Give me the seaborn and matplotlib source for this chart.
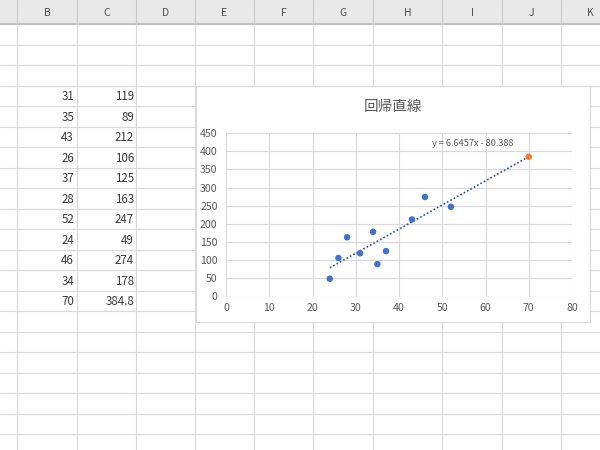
import pandas as pd
import matplotlib.pyplot as plt
import seaborn as sns
from matplotlib.patches import Rectangle

# ---------------------------------------------------------
# DATA (sheet columns B and C)
# ---------------------------------------------------------

x_vals = [31, 35, 43, 26, 37, 28, 52, 24, 46, 34, 70]
y_vals = [119, 89, 212, 106, 125, 163, 247, 49, 274, 178, 384.8]
y_text = ["119", "89", "212", "106", "125", "163", "247", "49", "274", "178", "384.8"]
groups = ["data"] * 10 + ["predict"]

col_letters = ["B", "C", "D", "E", "F", "G", "H", "I", "J", "K"]
x_ticks = [0, 10, 20, 30, 40, 50, 60, 70, 80]
y_ticks = [0, 50, 100, 150, 200, 250, 300, 350, 400, 450]

chart_title = "回帰直線"
equation = "y = 6.6457x - 80.388"

df = pd.DataFrame({"x": x_vals, "y": y_vals, "group": groups})

# ---------------------------------------------------------
# STYLE
# ---------------------------------------------------------

sns.set_style("white")
plt.rcParams["font.family"] = ["Noto Sans CJK JP", "DejaVu Sans"]

grid_col = "#D9D9D9"
text_col = "#595959"

fig = plt.figure(figsize=(6, 4.5), dpi=100)

# ---------------------------------------------------------
# SPREADSHEET BACKGROUND
# ---------------------------------------------------------

bg = fig.add_axes([0, 0, 1, 1])
bg.set_xlim(0, 600)
bg.set_ylim(450, 0)
bg.axis("off")

col_edges = [17, 77, 136, 195, 254, 313, 373, 442, 502, 561, 620]
header_h = 24
row_h = 20.51

bg.add_patch(Rectangle((0, 0), 600, header_h, color="#E8E8E8", zorder=1))
bg.plot([0, 600], [header_h, header_h], color="#B8B8B8", lw=1.2, zorder=2)

for e in col_edges:
    bg.plot([e, e], [0, header_h], color="#C8C8C8", lw=0.8, zorder=2)
    bg.plot([e, e], [header_h, 450], color=grid_col, lw=0.8, zorder=1)

for k in range(1, 22):
    yy = header_h + row_h * k
    bg.plot([0, 600], [yy, yy], color=grid_col, lw=0.8, zorder=1)

for i, letter in enumerate(col_letters):
    cx = (col_edges[i] + col_edges[i + 1]) / 2
    bg.text(cx, header_h / 2 + 1, letter, ha="center", va="center",
            fontsize=7.5, color="#505050", zorder=3)

for r in range(len(x_vals)):
    cy = header_h + row_h * (3 + r) + row_h / 2 + 1
    bg.text(col_edges[1] - 3, cy, str(x_vals[r]), ha="right", va="center",
            fontsize=8.3, color="#3A3A3A", zorder=3)
    bg.text(col_edges[2] - 2, cy, y_text[r], ha="right", va="center",
            fontsize=8.3, color="#3A3A3A", zorder=3)

# chart area box
bg.add_patch(Rectangle((196, 86), 394, 236, facecolor="white",
                       edgecolor=grid_col, lw=0.8, zorder=5))
bg.text(393, 107, chart_title, ha="center", va="center",
        fontsize=10.5, color=text_col, zorder=6)

# ---------------------------------------------------------
# SCATTER CHART
# ---------------------------------------------------------

ax = fig.add_axes([226 / 600, 1 - 296.5 / 450, 346 / 600, 163.5 / 450])
ax.set_zorder(10)
ax.patch.set_alpha(0)

sns.regplot(
    data=df,
    x="x",
    y="y",
    scatter=False,
    ci=None,
    ax=ax,
    line_kws={"color": "#2F528F", "lw": 1.2, "ls": (0, (1, 1.3))}
)

sns.scatterplot(
    data=df,
    x="x",
    y="y",
    hue="group",
    palette={"data": "#4472C4", "predict": "#ED7D31"},
    s=22,
    edgecolor="none",
    legend=False,
    ax=ax,
    zorder=5
)

ax.set_xlim(0, 80)
ax.set_ylim(0, 450)
ax.set_xticks(x_ticks)
ax.set_yticks(y_ticks)
ax.grid(True, color=grid_col, lw=0.8)
ax.set_axisbelow(True)
for s in ax.spines.values():
    s.set_visible(False)
ax.tick_params(length=0, labelsize=7.6, labelcolor=text_col)
ax.tick_params(axis="y", pad=6)
ax.tick_params(axis="x", pad=5)
ax.set_xlabel("")
ax.set_ylabel("")

ax.text(47.6, 420, equation, ha="left", va="center",
        fontsize=6.6, color=text_col)

fig.savefig("out.png", dpi=100)
